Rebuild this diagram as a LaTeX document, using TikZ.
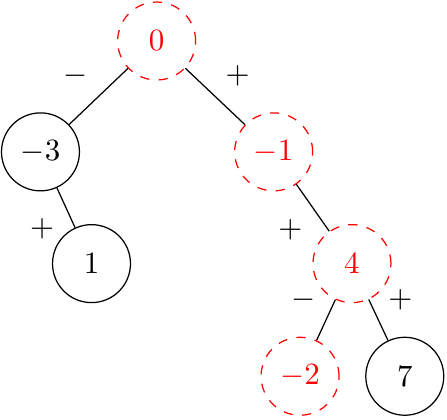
\documentclass[tikz,border=0pt]{standalone}
\usepackage{xcolor}
\usepackage{tikz}
\usetikzlibrary{positioning}

\begin{document}
\begin{tikzpicture}[
    nodo/.style={draw, circle, minimum size=0.886cm, inner sep=0pt},
    marcado/.style={nodo, red, dashed},
    signo/.style={inner sep=0pt}]
    \useasboundingbox (-1.78, 0.466) rectangle (3.30, -4.30);

    % Nodos del árbol
    \node[marcado] (raiz) at (0, 0) {$0$};
    \node[nodo] (menostres) at (-1.32, -1.26) {$-3$};
    \node[marcado] (menosuno) at (1.33, -1.26) {$-1$};
    \node[nodo] (uno) at (-0.74, -2.53) {$1$};
    \node[marcado] (cuatro) at (2.22, -2.53) {$4$};
    \node[marcado] (menosdos) at (1.63, -3.81) {$-2$};
    \node[nodo] (siete) at (2.82, -3.81) {$7$};

    % Aristas
    \draw (raiz) -- (menostres);
    \draw (raiz) -- (menosuno);
    \draw (menostres) -- (uno);
    \draw (menosuno) -- (cuatro);
    \draw (cuatro) -- (menosdos);
    \draw (cuatro) -- (siete);

    % Signos de las ramas
    \node[signo] (s1) at (-0.92, -0.39) {$-$};
    \node[signo] (s2) at (0.92, -0.40) {$+$};
    \node[signo] (s3) at (-1.30, -2.13) {$+$};
    \node[signo] (s4) at (1.52, -2.14) {$+$};
    \node[signo] (s5) at (1.67, -2.94) {$-$};
    \node[signo] (s6) at (2.77, -2.94) {$+$};
\end{tikzpicture}
\end{document}
